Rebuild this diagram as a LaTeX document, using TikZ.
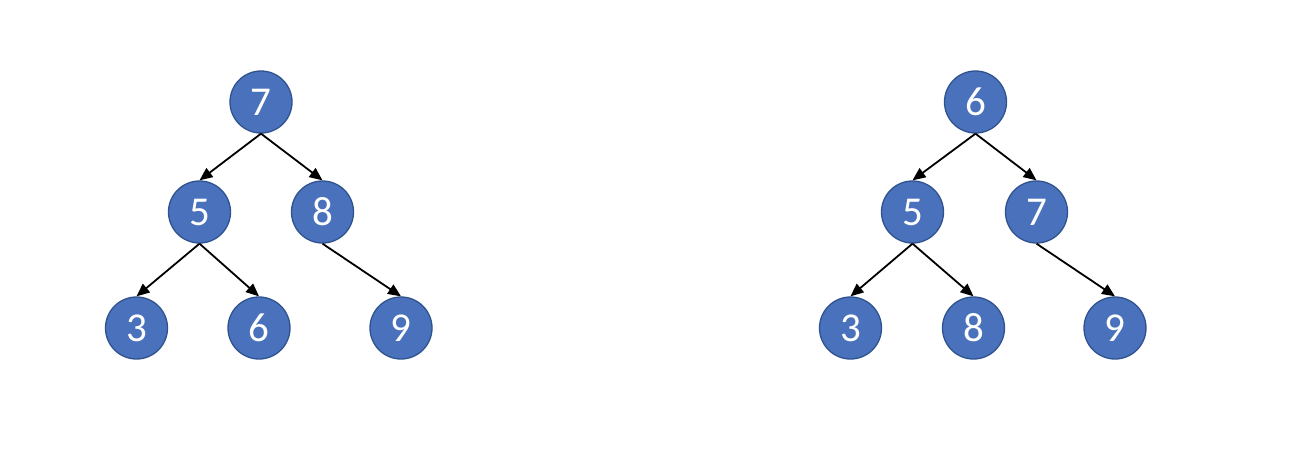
\documentclass[tikz,border=0pt]{standalone}
\usepackage{fontspec}
\setmainfont{Carlito}
\usetikzlibrary{arrows.meta}
\definecolor{nodefill}{HTML}{4A72BC}
\definecolor{nodeborder}{HTML}{2F528F}
\tikzset{
  treenode/.style={circle, fill=nodefill, draw=nodeborder, line width=1.3pt,
    minimum size=62pt, inner sep=0pt, text=white, font=\fontsize{41}{44}\selectfont},
  edge/.style={line width=1.8pt, -{Triangle[length=13pt,width=11pt]}}
}
\begin{document}
\begin{tikzpicture}[x=1pt,y=-1pt]
\useasboundingbox (0,0) rectangle (1294,464);
% left tree
\node[treenode] (a7) at (261,102) {7};
\node[treenode] (a5) at (199.5,212) {5};
\node[treenode] (a8) at (322.5,212) {8};
\node[treenode] (a3) at (136.5,328) {3};
\node[treenode] (a6) at (259,328) {6};
\node[treenode] (a9) at (401,328) {9};
\draw[edge] (a7.south) -- (a5.north);
\draw[edge] (a7.south) -- (a8.north);
\draw[edge] (a5.south) -- (a3.north);
\draw[edge] (a5.south) -- (a6.north);
\draw[edge] (a8.south) -- (a9.north);
% right tree
\node[treenode] (b6) at (975.5,102) {6};
\node[treenode] (b5) at (912.5,212) {5};
\node[treenode] (b7) at (1036.5,212) {7};
\node[treenode] (b3) at (850.5,328) {3};
\node[treenode] (b8) at (973.5,328) {8};
\node[treenode] (b9) at (1115,328) {9};
\draw[edge] (b6.south) -- (b5.north);
\draw[edge] (b6.south) -- (b7.north);
\draw[edge] (b5.south) -- (b3.north);
\draw[edge] (b5.south) -- (b8.north);
\draw[edge] (b7.south) -- (b9.north);
\end{tikzpicture}
\end{document}
